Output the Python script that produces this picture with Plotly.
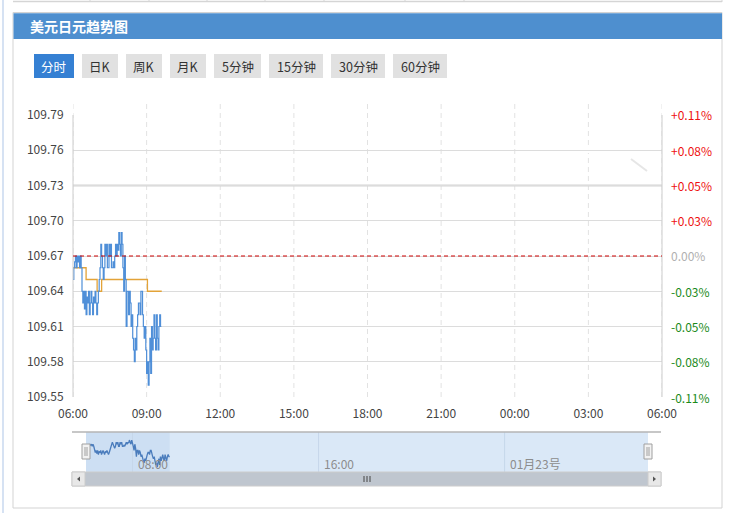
import plotly.graph_objects as go
import pandas as pd

W, H = 739, 513

# ---------------- data ----------------
title = "美元日元趋势图"
buttons = ["分时", "日K", "周K", "月K", "5分钟", "15分钟", "30分钟", "60分钟"]
base_price = 109.67
y_ticks = [109.55, 109.58, 109.61, 109.64, 109.67, 109.70, 109.73, 109.76, 109.79]
x_start = "2020-01-22 06:00"
x_end = "2020-01-23 06:00"

price_values = [
    109.650, 109.660, 109.665, 109.670, 109.660, 109.670, 109.665, 109.670, 109.660, 109.670, 109.660,
    109.640, 109.630, 109.640, 109.625, 109.640, 109.620, 109.635, 109.630, 109.640, 109.620, 109.630,
    109.640, 109.630, 109.620, 109.635, 109.630, 109.640, 109.630, 109.620, 109.630, 109.640, 109.650, 109.660,
    109.680, 109.670, 109.660, 109.650, 109.660, 109.680, 109.670, 109.680, 109.660, 109.660, 109.680, 109.670,
    109.680, 109.660, 109.660, 109.665, 109.660, 109.670, 109.680, 109.670, 109.680, 109.675, 109.690, 109.680,
    109.670, 109.690,
    109.680, 109.660, 109.640, 109.670, 109.650, 109.610, 109.640, 109.640, 109.620, 109.640, 109.630, 109.610,
    109.620, 109.600, 109.590, 109.580, 109.600, 109.590, 109.610, 109.620, 109.630, 109.630, 109.620, 109.640,
    109.640, 109.620, 109.610, 109.600, 109.610, 109.590, 109.570, 109.580, 109.560, 109.580, 109.600, 109.570,
    109.610, 109.590, 109.600, 109.620, 109.600, 109.590, 109.620, 109.600, 109.590, 109.610, 109.620, 109.610,
    109.610,
]
avg_minutes = [0, 32, 59, 70, 182, 217]
avg_values = [109.66, 109.65, 109.64, 109.65, 109.64, 109.64]

nav_labels = ["08:00", "16:00", "01月23号"]
nav_label_times = ["2020-01-22 08:00", "2020-01-22 16:00", "2020-01-23 00:00"]

# ---------------- derived ----------------
t0 = pd.Timestamp(x_start)
price_times = [t0 + pd.Timedelta(minutes=2 * i) for i in range(len(price_values))]
avg_times = [t0 + pd.Timedelta(minutes=m) for m in avg_minutes]


def px(x):
    return x / W


def py(y):
    return 1 - y / H


FONT = "Noto Sans CJK SC, Microsoft YaHei, sans-serif"

fig = go.Figure()

fig.add_trace(go.Scatter(x=avg_times, y=avg_values, mode="lines", line=dict(color="#e3a338", width=1.3, shape="hv"),
                         xaxis="x", yaxis="y", hoverinfo="skip", showlegend=False))
fig.add_trace(go.Scatter(x=price_times, y=price_values, mode="lines", line=dict(color="#4f8fd8", width=1.2, shape="hv"),
                         xaxis="x", yaxis="y", hoverinfo="skip", showlegend=False))
# navigator mini line
fig.add_trace(go.Scatter(x=price_times, y=price_values, mode="lines", line=dict(color="#4a7cbc", width=1.3),
                         xaxis="x2", yaxis="y2", hoverinfo="skip", showlegend=False))

x0p, x1p = 73, 662
ytop, ybot = 115, 397
PR = 722  # panel right edge

shapes = []
annotations = []

# page decoration
shapes.append(dict(type="line", xref="paper", yref="paper", x0=px(3), x1=px(3), y0=0, y1=1,
                   line=dict(color="#c9d9ef", width=1.5)))
shapes.append(dict(type="line", xref="paper", yref="paper", x0=px(13), x1=px(PR), y0=py(1.5), y1=py(1.5),
                   line=dict(color="#d5d5d5", width=1.5)))
for sx in [90, 149, 207, 265, 324, 405, 464, PR]:
    shapes.append(dict(type="line", xref="paper", yref="paper", x0=px(sx), x1=px(sx), y0=py(0), y1=py(2),
                       line=dict(color="#d5d5d5", width=1)))
# panel border
shapes.append(dict(type="rect", xref="paper", yref="paper", x0=px(13), x1=px(PR), y0=py(508), y1=py(12.5),
                   line=dict(color="#d3d3d3", width=1), fillcolor="rgba(0,0,0,0)"))
# title bar
shapes.append(dict(type="rect", xref="paper", yref="paper", x0=px(13.5), x1=px(PR), y0=py(39), y1=py(13.3),
                   line=dict(width=0), fillcolor="#4e8fcf"))
annotations.append(dict(text="<b>" + title + "</b>", xref="paper", yref="paper", x=px(28), y=py(26),
                        xanchor="left", yanchor="middle", showarrow=False,
                        font=dict(family=FONT, size=14, color="white")))

# buttons
bx = [34, 82, 126, 170, 214, 269, 331, 393]
bw = [40, 36, 36, 36, 47, 54, 54, 54]
for i, (lab, x, w) in enumerate(zip(buttons, bx, bw)):
    active = i == 0
    shapes.append(dict(type="rect", xref="paper", yref="paper", x0=px(x), x1=px(x + w), y0=py(78), y1=py(54),
                       line=dict(width=0), fillcolor="#3580d3" if active else "#e1e1e1"))
    annotations.append(dict(text=lab, xref="paper", yref="paper", x=px(x + w / 2), y=py(66),
                            xanchor="center", yanchor="middle", showarrow=False,
                            font=dict(family=FONT, size=12.5, color="white" if active else "#333")))

# vertical dashed grid lines (extend above plot)
for k in range(9):
    t = t0 + pd.Timedelta(hours=3 * k)
    shapes.append(dict(type="line", xref="x", yref="paper", x0=t, x1=t, y0=py(ybot), y1=py(102),
                       line=dict(color="#e2e2e2", width=1, dash="5px,4px"), layer="below"))
# plot left/right borders
shapes.append(dict(type="line", xref="paper", yref="paper", x0=px(x0p), x1=px(x0p), y0=py(ybot), y1=py(ytop),
                   line=dict(color="#cccccc", width=1)))
shapes.append(dict(type="line", xref="paper", yref="paper", x0=px(x1p), x1=px(x1p), y0=py(ybot), y1=py(ytop),
                   line=dict(color="#cccccc", width=1)))
# thicker 109.73 line
shapes.append(dict(type="line", xref="paper", yref="y", x0=px(x0p), x1=px(x1p), y0=109.73, y1=109.73,
                   line=dict(color="#d4d4d4", width=2), layer="below"))
# small artifacts near top right
shapes.append(dict(type="rect", xref="paper", yref="paper", x0=px(563), x1=px(630), y0=py(153), y1=py(148),
                   line=dict(width=0), fillcolor="white", layer="below"))
shapes.append(dict(type="line", xref="paper", yref="paper", x0=px(631), x1=px(647), y0=py(159), y1=py(171),
                   line=dict(color="#e6e6e6", width=2)))
# base price dashed line
shapes.append(dict(type="line", xref="paper", yref="y", x0=px(x0p), x1=px(x1p), y0=base_price, y1=base_price,
                   line=dict(color="#cc0000", width=1, dash="4px,3px")))

# right percentage labels
for v in y_ticks:
    pct = (v - base_price) / base_price * 100
    r = round(pct, 2)
    if abs(r) < 1e-9:
        txt, col = "0.00%", "#b0b0b0"
    elif r > 0:
        txt, col = "+%.2f%%" % r, "#ee1111"
    else:
        txt, col = "%.2f%%" % r, "#1a8a1a"
    annotations.append(dict(text=txt, xref="paper", yref="y", x=px(669), y=v, xanchor="left", yanchor="middle",
                            showarrow=False, font=dict(family=FONT, size=12, color=col)))

# ---------------- navigator ----------------
nx0, nx1 = 72, 661
nt, nb = 432, 472
shapes.append(dict(type="rect", xref="paper", yref="paper", x0=px(86), x1=px(648), y0=py(nb), y1=py(nt),
                   line=dict(width=0), fillcolor="#dae8f7", layer="below"))
shapes.append(dict(type="rect", xref="x2", yref="paper", x0=price_times[0], x1=price_times[-1], y0=py(nb), y1=py(nt),
                   line=dict(width=0), fillcolor="#cddff3", layer="below"))
shapes.append(dict(type="line", xref="paper", yref="paper", x0=px(nx0), x1=px(nx1), y0=py(nt), y1=py(nt),
                   line=dict(color="#b4b4b4", width=1.5)))
for t, lab in zip(nav_label_times, nav_labels):
    shapes.append(dict(type="line", xref="x2", yref="paper", x0=pd.Timestamp(t), x1=pd.Timestamp(t),
                       y0=py(nb), y1=py(nt), line=dict(color="#c6d7ea", width=1), layer="below"))
    annotations.append(dict(text=lab, xref="x2", yref="paper", x=pd.Timestamp(t), y=py(463), xanchor="left",
                            yanchor="middle", xshift=3, showarrow=False,
                            font=dict(family=FONT, size=12, color="#8c8c8c")))
# handles
for hx in [86, 648]:
    shapes.append(dict(type="rect", xref="paper", yref="paper", x0=px(hx - 4), x1=px(hx + 4), y0=py(459), y1=py(444),
                       line=dict(color="#a0a0a0", width=1), fillcolor="#f2f2f2"))
    for dx in (-1, 1):
        shapes.append(dict(type="line", xref="paper", yref="paper", x0=px(hx + dx), x1=px(hx + dx),
                           y0=py(456), y1=py(447), line=dict(color="#a0a0a0", width=1)))
# scrollbar
shapes.append(dict(type="rect", xref="paper", yref="paper", x0=px(nx0), x1=px(nx1), y0=py(486), y1=py(472),
                   line=dict(color="#cccccc", width=1), fillcolor="#bfc6cf"))
for ax0 in [nx0, nx1 - 13]:
    shapes.append(dict(type="rect", xref="paper", yref="paper", x0=px(ax0), x1=px(ax0 + 13), y0=py(486), y1=py(472),
                       line=dict(color="#cccccc", width=1), fillcolor="#e8e8e8"))
shapes.append(dict(type="path", xref="paper", yref="paper",
                   path="M %f %f L %f %f L %f %f Z" % (px(77), py(479), px(80), py(476.5), px(80), py(481.5)),
                   fillcolor="#555", line=dict(width=0)))
shapes.append(dict(type="path", xref="paper", yref="paper",
                   path="M %f %f L %f %f L %f %f Z" % (px(656), py(479), px(653), py(476.5), px(653), py(481.5)),
                   fillcolor="#555", line=dict(width=0)))
for gx in [364, 367, 370]:
    shapes.append(dict(type="line", xref="paper", yref="paper", x0=px(gx), x1=px(gx), y0=py(482), y1=py(476),
                       line=dict(color="#444", width=1)))

fig.update_layout(
    width=W, height=H,
    margin=dict(l=0, r=0, t=0, b=0, pad=0, autoexpand=False),
    paper_bgcolor="white", plot_bgcolor="rgba(0,0,0,0)",
    hovermode=False, showlegend=False,
    shapes=shapes, annotations=annotations,
    font=dict(family=FONT, size=12, color="#444"),
    xaxis=dict(domain=[px(x0p), px(x1p)], anchor="y", type="date", automargin=False,
               range=[pd.Timestamp(x_start), pd.Timestamp(x_end)],
               tickvals=[t0 + pd.Timedelta(hours=3 * k) for k in range(9)],
               tickformat="%H:%M", showgrid=False, zeroline=False, showline=False,
               ticks="outside", ticklen=6, tickcolor="rgba(0,0,0,0)",
               tickfont=dict(family=FONT, size=12, color="#444"), fixedrange=True),
    yaxis=dict(domain=[py(ybot), py(ytop)], anchor="x", range=[109.55, 109.79], automargin=False,
               tickvals=y_ticks, ticktext=["%.2f" % v for v in y_ticks],
               showgrid=True, gridcolor="#dcdcdc", gridwidth=1, zeroline=False, showline=False,
               ticks="outside", ticklen=6, tickcolor="rgba(0,0,0,0)",
               tickfont=dict(family=FONT, size=12, color="#444"), fixedrange=True),
    xaxis2=dict(domain=[px(86), px(648)], anchor="y2", type="date", automargin=False,
                range=[pd.Timestamp(x_start), pd.Timestamp(x_end) + pd.Timedelta(minutes=10)],
                visible=False, fixedrange=True),
    yaxis2=dict(domain=[py(nb), py(nt)], anchor="x2", range=[109.536, 109.729], visible=False,
                automargin=False, fixedrange=True),
)

fig.write_html("out.html", config={"responsive": False, "displayModeBar": False},
               post_script="document.body.style.margin='0';document.body.style.overflow='hidden';")
